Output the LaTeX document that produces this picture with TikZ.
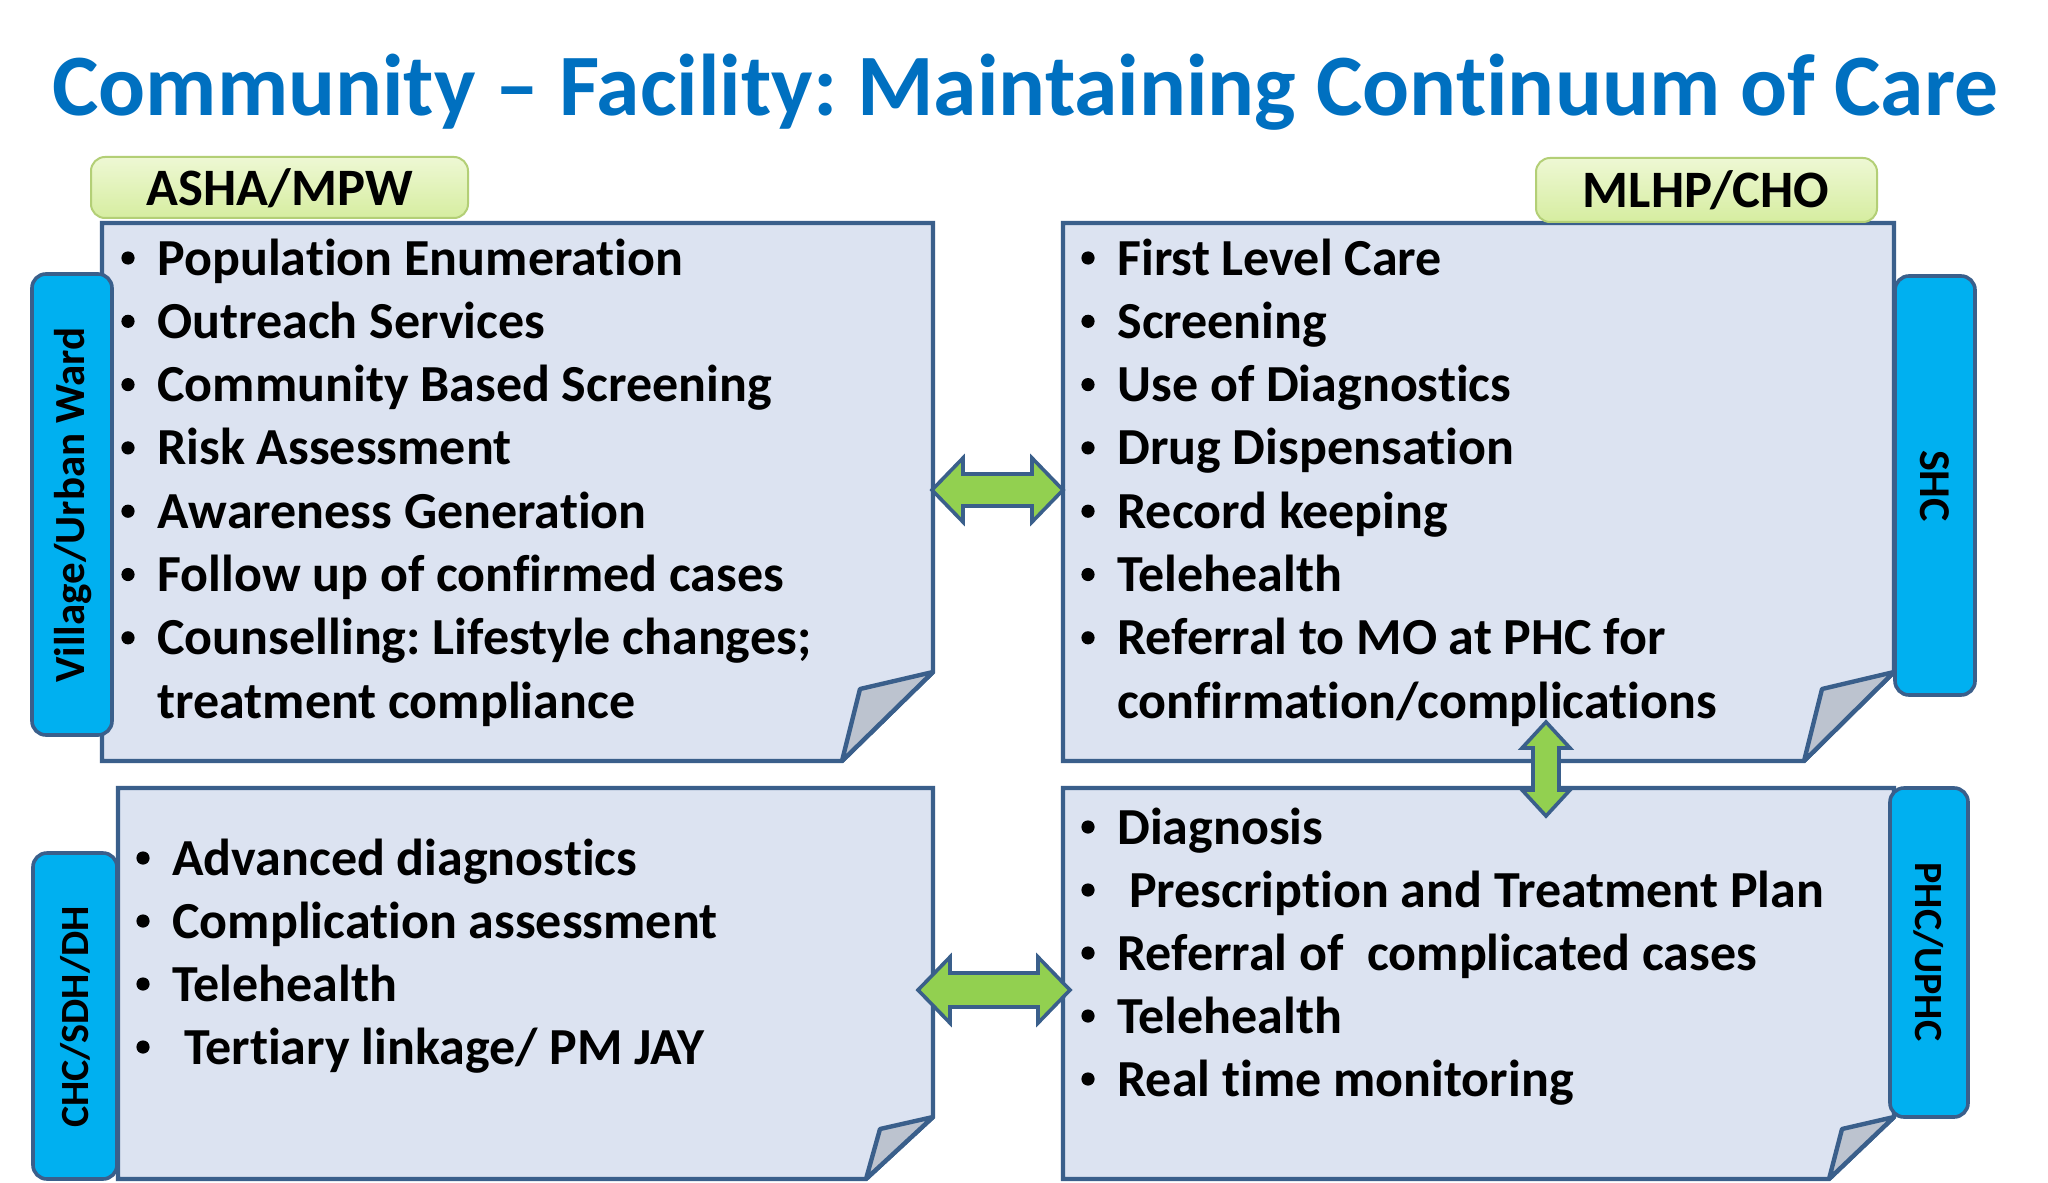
\documentclass[tikz,border=0pt]{standalone}
\usepackage{fontspec}
\setmainfont{Carlito}[Ligatures=NoCommon]
\usetikzlibrary{calc}
\frenchspacing
\definecolor{ttl}{HTML}{0070C0}
\definecolor{boxfill}{HTML}{DCE3F1}
\definecolor{boxline}{HTML}{3A5F8B}
\definecolor{foldfill}{HTML}{BCC3CF}
\definecolor{tabblue}{HTML}{00B0F0}
\definecolor{arrgreen}{HTML}{92D050}
\definecolor{gtop}{HTML}{EEF8D4}
\definecolor{gbot}{HTML}{D6EDA0}
\definecolor{gline}{HTML}{B3CF76}
\tikzset{
 pagebox/.style={fill=boxfill, draw=boxline, line width=2.2pt, line join=miter},
 foldtri/.style={fill=foldfill, draw=boxline, line width=2.2pt, line join=round},
 sidetab/.style={fill=tabblue, draw=boxline, line width=1.8pt, rounded corners=7pt},
 roletab/.style={top color=gtop, bottom color=gbot, draw=gline, line width=1pt, rounded corners=7pt},
 dblarrow/.style={fill=arrgreen, draw=boxline, line width=1.8pt, line join=miter},
 itm/.style={anchor=base west, inner sep=0pt, font=\bfseries\fontsize{26}{31}\selectfont},
 bul/.style={circle, fill=black, inner sep=0pt, minimum size=6.6pt},
 tabtxt/.style={inner sep=0pt, font=\bfseries\fontsize{20}{24}\selectfont},
 roletxt/.style={inner sep=0pt, font=\bfseries\fontsize{26.3}{30}\selectfont},
}
% horizontal double arrow: left tip, right tip, head length, head half, shaft half
\newcommand\hdblarrow[5]{%
 \draw[dblarrow] (#1) -- ($(#1)+(#3,-#4)$) -- ($(#1)+(#3,-#5)$) -- ($(#2)+(-#3,-#5)$) -- ($(#2)+(-#3,-#4)$) -- (#2)
  -- ($(#2)+(-#3,#4)$) -- ($(#2)+(-#3,#5)$) -- ($(#1)+(#3,#5)$) -- ($(#1)+(#3,#4)$) -- cycle;}
% vertical double arrow: top tip, bottom tip, head length, head half, shaft half
\newcommand\vdblarrow[5]{%
 \draw[dblarrow] (#1) -- ($(#1)+(#4,#3)$) -- ($(#1)+(#5,#3)$) -- ($(#2)+(#5,-#3)$) -- ($(#2)+(#4,-#3)$) -- (#2)
  -- ($(#2)+(-#4,-#3)$) -- ($(#2)+(-#5,-#3)$) -- ($(#1)+(-#5,#3)$) -- ($(#1)+(-#4,#3)$) -- cycle;}
% bullet line: name, text x, baseline y, bullet x, text
\newcommand\bline[5]{%
 \node[bul] (#1b) at (#4,{#3-17}) {};
 \node[itm] (#1) at (#2,#3) {#5};}
\begin{document}
\begin{tikzpicture}[x=0.5pt,y=-0.5pt]
\useasboundingbox[fill=white] (0,0) rectangle (2048,1182);

% title
\node[anchor=base west, inner sep=0pt, text=ttl, font=\bfseries\fontsize{43.8}{50}\selectfont] (title) at (52,116) {Community – Facility: Maintaining Continuum of Care};

% box corners
\coordinate (tlNW) at (102,223); \coordinate (tlNE) at (933,223); \coordinate (tlA) at (933,672);
\coordinate (tlB) at (842,761); \coordinate (tlSW) at (102,761); \coordinate (tlC) at (860,689);
\coordinate (trNW) at (1063,223); \coordinate (trNE) at (1894,223); \coordinate (trA) at (1894,672);
\coordinate (trB) at (1804,761); \coordinate (trSW) at (1063,761); \coordinate (trC) at (1822,689);
\coordinate (blNW) at (118,788); \coordinate (blNE) at (933,788); \coordinate (blA) at (933,1117);
\coordinate (blB) at (866,1179); \coordinate (blSW) at (118,1179); \coordinate (blC) at (880,1129);
\coordinate (brNW) at (1063,788); \coordinate (brNE) at (1894,788); \coordinate (brA) at (1894,1117);
\coordinate (brB) at (1829,1179); \coordinate (brSW) at (1063,1179); \coordinate (brC) at (1842,1129);

\foreach \b in {tl,tr,bl,br}{
 \draw[pagebox] (\b NW) -- (\b NE) -- (\b A) -- (\b B) -- (\b SW) -- cycle;
 \draw[foldtri] (\b A) -- (\b C) -- (\b B) -- cycle;
}

% side tabs
\draw[sidetab] (32,274) rectangle (112,735);
\node[tabtxt, rotate=90, font=\bfseries\fontsize{21.5}{24}\selectfont] (village) at (73,505) {Village/Urban Ward};
\draw[sidetab] (1895,276) rectangle (1975,695);
\node[tabtxt, rotate=-90, font=\bfseries\fontsize{22}{24}\selectfont] (shc) at (1935,486) {SHC};
\draw[sidetab] (33,853) rectangle (117,1179);
\node[tabtxt, rotate=90] (chc) at (75,1017) {CHC/SDH/DH};
\draw[sidetab] (1890,788) rectangle (1968,1117);
\node[tabtxt, rotate=-90] (phc) at (1929,952) {PHC/UPHC};

% role tabs
\draw[roletab] (91,157) rectangle (468,218);
\node[roletxt] (asha) at (280,188) {ASHA/MPW};
\draw[roletab] (1536,158) rectangle (1877,222);
\node[roletxt] (mlhp) at (1706,190) {MLHP/CHO};

% top-left items
\bline{tl1}{157}{275}{128}{Population Enumeration}
\bline{tl2}{157}{338.3}{128}{Outreach Services}
\bline{tl3}{157}{401.6}{128}{Community Based Screening}
\bline{tl4}{157}{464.9}{128}{Risk Assessment}
\bline{tl5}{157}{528.2}{128}{Awareness Generation}
\bline{tl6}{157}{591.5}{128}{Follow up of confirmed cases}
\bline{tl7}{157}{654.8}{128}{Counselling: Lifestyle changes;}
\node[itm] (tl8) at (157,718.1) {treatment compliance};

% top-right items
\bline{tr1}{1117}{275}{1088}{First Level Care}
\bline{tr2}{1117}{338.3}{1088}{Screening}
\bline{tr3}{1117}{401.6}{1088}{Use of Diagnostics}
\bline{tr4}{1117}{464.9}{1088}{Drug Dispensation}
\bline{tr5}{1117}{528.2}{1088}{Record keeping}
\bline{tr6}{1117}{591.5}{1088}{Telehealth}
\bline{tr7}{1117}{654.8}{1088}{Referral to MO at PHC for}
\node[itm] (tr8) at (1117,718.1) {confirmation/complications};

% bottom-left items
\bline{bl1}{172}{875}{143}{Advanced diagnostics}
\bline{bl2}{172}{938}{143}{Complication assessment}
\bline{bl3}{172}{1001}{143}{Telehealth}
\bline{bl4}{172}{1064}{143}{\ Tertiary linkage/ PM JAY}

% bottom-right items
\bline{br1}{1117}{844}{1088}{Diagnosis}
\bline{br2}{1117}{907}{1088}{\ Prescription and Treatment Plan}
\bline{br3}{1117}{970}{1088}{Referral of\ \ complicated cases}
\bline{br4}{1117}{1033}{1088}{Telehealth}
\bline{br5}{1117}{1096}{1088}{Real time monitoring}

% arrows
\coordinate (a1L) at (932,490); \coordinate (a1R) at (1063,490);
\hdblarrow{a1L}{a1R}{31}{32}{16}
\coordinate (a2L) at (918,990); \coordinate (a2R) at (1070,990);
\hdblarrow{a2L}{a2R}{32}{33}{17}
\coordinate (a3T) at (1546,722); \coordinate (a3B) at (1546,816);
\vdblarrow{a3T}{a3B}{26}{24}{13}
\end{tikzpicture}
\end{document}
